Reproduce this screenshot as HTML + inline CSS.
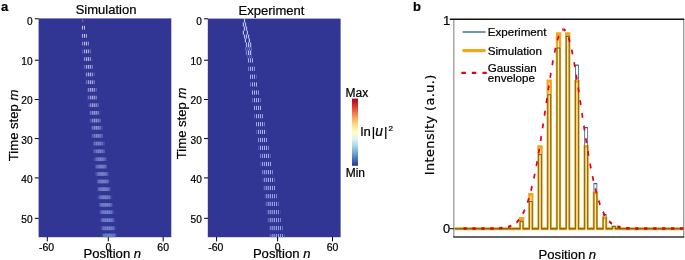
<!DOCTYPE html>
<html lang="en"><head><meta charset="utf-8"><title>Figure</title>
<style>html,body{margin:0;padding:0;background:#fff}svg{display:block}</style>
</head><body>
<svg width="685" height="260" viewBox="0 0 685 260" font-family='"Liberation Sans", Arial, Helvetica, sans-serif' fill="#000"><style>text{stroke:#000;stroke-width:0.22px;}</style>
<rect width="685" height="260" fill="#fff"/>
<rect x="38.6" y="18.4" width="132.70" height="218.80" fill="#313695"/>
<rect x="207.8" y="18.6" width="132.80" height="218.60" fill="#313695"/>
<g shape-rendering="auto">
<rect x="82.20" y="18.50" width="1.00" height="3.75" fill="#e86a48" fill-opacity="0.60"/>
<rect x="81.95" y="25.80" width="1.00" height="3.75" fill="#ecd6e2" fill-opacity="0.87"/>
<rect x="83.91" y="25.80" width="1.00" height="3.75" fill="#ecd6e2" fill-opacity="0.89"/>
<rect x="81.95" y="34.00" width="1.00" height="3.75" fill="#ecd6e2" fill-opacity="0.75"/>
<rect x="83.91" y="34.00" width="1.00" height="3.75" fill="#ecd6e2" fill-opacity="0.92"/>
<rect x="85.86" y="34.00" width="1.00" height="3.75" fill="#ecd6e2" fill-opacity="0.80"/>
<rect x="81.95" y="41.70" width="1.00" height="3.75" fill="#e0e0f8" fill-opacity="0.54"/>
<rect x="83.91" y="41.70" width="1.00" height="3.75" fill="#e0e0f8" fill-opacity="0.87"/>
<rect x="85.86" y="41.70" width="1.00" height="3.75" fill="#e0e0f8" fill-opacity="0.90"/>
<rect x="87.81" y="41.70" width="1.00" height="3.75" fill="#e0e0f8" fill-opacity="0.65"/>
<rect x="81.95" y="49.50" width="1.00" height="3.75" fill="#e0e0f8" fill-opacity="0.21"/>
<rect x="83.91" y="49.50" width="1.00" height="3.75" fill="#e0e0f8" fill-opacity="0.75"/>
<rect x="85.86" y="49.50" width="1.00" height="3.75" fill="#e0e0f8" fill-opacity="0.92"/>
<rect x="87.81" y="49.50" width="1.00" height="3.75" fill="#e0e0f8" fill-opacity="0.83"/>
<rect x="89.77" y="49.50" width="1.00" height="3.75" fill="#e0e0f8" fill-opacity="0.44"/>
<rect x="83.91" y="57.20" width="1.00" height="3.75" fill="#e0e0f8" fill-opacity="0.57"/>
<rect x="85.86" y="57.20" width="1.00" height="3.75" fill="#e0e0f8" fill-opacity="0.87"/>
<rect x="87.81" y="57.20" width="1.00" height="3.75" fill="#e0e0f8" fill-opacity="0.91"/>
<rect x="89.77" y="57.20" width="1.00" height="3.75" fill="#e0e0f8" fill-opacity="0.70"/>
<rect x="91.73" y="57.20" width="1.00" height="3.75" fill="#e0e0f8" fill-opacity="0.07"/>
<rect x="83.91" y="65.00" width="1.00" height="3.75" fill="#e0e0f8" fill-opacity="0.30"/>
<rect x="85.86" y="65.00" width="1.00" height="3.75" fill="#e0e0f8" fill-opacity="0.76"/>
<rect x="87.81" y="65.00" width="1.00" height="3.75" fill="#e0e0f8" fill-opacity="0.92"/>
<rect x="89.77" y="65.00" width="1.00" height="3.75" fill="#e0e0f8" fill-opacity="0.85"/>
<rect x="91.73" y="65.00" width="1.00" height="3.75" fill="#e0e0f8" fill-opacity="0.52"/>
<rect x="85.86" y="72.60" width="1.00" height="3.75" fill="#e0e0f8" fill-opacity="0.60"/>
<rect x="87.81" y="72.60" width="1.00" height="3.75" fill="#e0e0f8" fill-opacity="0.87"/>
<rect x="89.77" y="72.60" width="1.00" height="3.75" fill="#e0e0f8" fill-opacity="0.91"/>
<rect x="91.73" y="72.60" width="1.00" height="3.75" fill="#e0e0f8" fill-opacity="0.74"/>
<rect x="93.68" y="72.60" width="1.00" height="3.75" fill="#e0e0f8" fill-opacity="0.26"/>
<rect x="85.86" y="80.30" width="1.00" height="3.75" fill="#e0e0f8" fill-opacity="0.37"/>
<rect x="87.81" y="80.30" width="1.00" height="3.75" fill="#e0e0f8" fill-opacity="0.77"/>
<rect x="89.77" y="80.30" width="1.00" height="3.75" fill="#e0e0f8" fill-opacity="0.92"/>
<rect x="91.73" y="80.30" width="1.00" height="3.75" fill="#e0e0f8" fill-opacity="0.86"/>
<rect x="93.68" y="80.30" width="1.00" height="3.75" fill="#e0e0f8" fill-opacity="0.58"/>
<rect x="87.81" y="88.00" width="1.00" height="3.75" fill="#e0e0f8" fill-opacity="0.63"/>
<rect x="89.77" y="88.00" width="1.00" height="3.75" fill="#e0e0f8" fill-opacity="0.87"/>
<rect x="91.73" y="88.00" width="1.00" height="3.75" fill="#e0e0f8" fill-opacity="0.91"/>
<rect x="93.68" y="88.00" width="1.00" height="3.75" fill="#e0e0f8" fill-opacity="0.76"/>
<rect x="95.64" y="88.00" width="1.00" height="3.75" fill="#e0e0f8" fill-opacity="0.36"/>
<rect x="87.81" y="95.70" width="1.00" height="3.75" fill="#e0e0f8" fill-opacity="0.44"/>
<rect x="89.77" y="95.70" width="1.00" height="3.75" fill="#e0e0f8" fill-opacity="0.79"/>
<rect x="91.73" y="95.70" width="1.00" height="3.75" fill="#e0e0f8" fill-opacity="0.92"/>
<rect x="93.68" y="95.70" width="1.00" height="3.75" fill="#e0e0f8" fill-opacity="0.87"/>
<rect x="95.64" y="95.70" width="1.00" height="3.75" fill="#e0e0f8" fill-opacity="0.63"/>
<rect x="87.81" y="103.30" width="1.00" height="3.75" fill="#dbdcf7" fill-opacity="0.14"/>
<rect x="89.77" y="103.30" width="1.00" height="3.75" fill="#dbdcf7" fill-opacity="0.66"/>
<rect x="91.73" y="103.30" width="1.00" height="3.75" fill="#dbdcf7" fill-opacity="0.88"/>
<rect x="93.68" y="103.30" width="1.00" height="3.75" fill="#dbdcf7" fill-opacity="0.91"/>
<rect x="95.64" y="103.30" width="1.00" height="3.75" fill="#dbdcf7" fill-opacity="0.78"/>
<rect x="97.59" y="103.30" width="1.00" height="3.75" fill="#dbdcf7" fill-opacity="0.43"/>
<rect x="89.77" y="111.00" width="1.00" height="3.75" fill="#d6d8f6" fill-opacity="0.49"/>
<rect x="91.73" y="111.00" width="1.00" height="3.75" fill="#d6d8f6" fill-opacity="0.80"/>
<rect x="93.68" y="111.00" width="1.00" height="3.75" fill="#d6d8f6" fill-opacity="0.92"/>
<rect x="95.64" y="111.00" width="1.00" height="3.75" fill="#d6d8f6" fill-opacity="0.87"/>
<rect x="97.59" y="111.00" width="1.00" height="3.75" fill="#d6d8f6" fill-opacity="0.66"/>
<rect x="99.55" y="111.00" width="1.00" height="3.75" fill="#d6d8f6" fill-opacity="0.14"/>
<rect x="89.77" y="118.70" width="1.00" height="3.75" fill="#d1d5f4" fill-opacity="0.26"/>
<rect x="91.73" y="118.70" width="1.00" height="3.75" fill="#d1d5f4" fill-opacity="0.69"/>
<rect x="93.68" y="118.70" width="1.00" height="3.75" fill="#d1d5f4" fill-opacity="0.88"/>
<rect x="95.64" y="118.70" width="1.00" height="3.75" fill="#d1d5f4" fill-opacity="0.91"/>
<rect x="97.59" y="118.70" width="1.00" height="3.75" fill="#d1d5f4" fill-opacity="0.79"/>
<rect x="99.55" y="118.70" width="1.00" height="3.75" fill="#d1d5f4" fill-opacity="0.48"/>
<rect x="91.73" y="126.00" width="1.00" height="3.75" fill="#ccd1f3" fill-opacity="0.55"/>
<rect x="93.68" y="126.00" width="1.00" height="3.75" fill="#ccd1f3" fill-opacity="0.82"/>
<rect x="95.64" y="126.00" width="1.00" height="3.75" fill="#ccd1f3" fill-opacity="0.92"/>
<rect x="97.59" y="126.00" width="1.00" height="3.75" fill="#ccd1f3" fill-opacity="0.87"/>
<rect x="99.55" y="126.00" width="1.00" height="3.75" fill="#ccd1f3" fill-opacity="0.68"/>
<rect x="101.50" y="126.00" width="1.00" height="3.75" fill="#ccd1f3" fill-opacity="0.24"/>
<rect x="91.73" y="134.00" width="1.00" height="3.75" fill="#c6cdf2" fill-opacity="0.35"/>
<rect x="93.68" y="134.00" width="1.00" height="3.75" fill="#c6cdf2" fill-opacity="0.70"/>
<rect x="95.64" y="134.00" width="1.00" height="3.75" fill="#c6cdf2" fill-opacity="0.87"/>
<rect x="97.59" y="134.00" width="1.00" height="3.75" fill="#c6cdf2" fill-opacity="0.89"/>
<rect x="99.55" y="134.00" width="1.00" height="3.75" fill="#c6cdf2" fill-opacity="0.78"/>
<rect x="101.50" y="134.00" width="1.00" height="3.75" fill="#c6cdf2" fill-opacity="0.51"/>
<rect x="91.70" y="141.70" width="1.04" height="3.75" fill="#c1c9f1" fill-opacity="0.04"/>
<rect x="93.66" y="141.70" width="1.04" height="3.75" fill="#c1c9f1" fill-opacity="0.57"/>
<rect x="95.61" y="141.70" width="1.04" height="3.75" fill="#c1c9f1" fill-opacity="0.79"/>
<rect x="97.57" y="141.70" width="1.04" height="3.75" fill="#c1c9f1" fill-opacity="0.87"/>
<rect x="99.52" y="141.70" width="1.04" height="3.75" fill="#c1c9f1" fill-opacity="0.83"/>
<rect x="101.48" y="141.70" width="1.04" height="3.75" fill="#c1c9f1" fill-opacity="0.66"/>
<rect x="103.43" y="141.70" width="1.04" height="3.75" fill="#c1c9f1" fill-opacity="0.29"/>
<rect x="93.64" y="149.40" width="1.09" height="3.75" fill="#bcc6ef" fill-opacity="0.40"/>
<rect x="95.59" y="149.40" width="1.09" height="3.75" fill="#bcc6ef" fill-opacity="0.69"/>
<rect x="97.55" y="149.40" width="1.09" height="3.75" fill="#bcc6ef" fill-opacity="0.83"/>
<rect x="99.50" y="149.40" width="1.09" height="3.75" fill="#bcc6ef" fill-opacity="0.84"/>
<rect x="101.45" y="149.40" width="1.09" height="3.75" fill="#bcc6ef" fill-opacity="0.74"/>
<rect x="103.41" y="149.40" width="1.09" height="3.75" fill="#bcc6ef" fill-opacity="0.50"/>
<rect x="95.19" y="157.30" width="10.16" height="3.75" fill="#b7c2ee" fill-opacity="0.04"/>
<rect x="93.61" y="157.30" width="1.14" height="3.75" fill="#b7c2ee" fill-opacity="0.19"/>
<rect x="95.57" y="157.30" width="1.14" height="3.75" fill="#b7c2ee" fill-opacity="0.57"/>
<rect x="97.52" y="157.30" width="1.14" height="3.75" fill="#b7c2ee" fill-opacity="0.76"/>
<rect x="99.48" y="157.30" width="1.14" height="3.75" fill="#b7c2ee" fill-opacity="0.82"/>
<rect x="101.43" y="157.30" width="1.14" height="3.75" fill="#b7c2ee" fill-opacity="0.78"/>
<rect x="103.39" y="157.30" width="1.14" height="3.75" fill="#b7c2ee" fill-opacity="0.63"/>
<rect x="105.34" y="157.30" width="1.14" height="3.75" fill="#b7c2ee" fill-opacity="0.31"/>
<rect x="96.00" y="164.75" width="10.38" height="3.75" fill="#b2beed" fill-opacity="0.07"/>
<rect x="95.55" y="164.75" width="1.18" height="3.75" fill="#b2beed" fill-opacity="0.44"/>
<rect x="97.50" y="164.75" width="1.18" height="3.75" fill="#b2beed" fill-opacity="0.67"/>
<rect x="99.45" y="164.75" width="1.18" height="3.75" fill="#b2beed" fill-opacity="0.78"/>
<rect x="101.41" y="164.75" width="1.18" height="3.75" fill="#b2beed" fill-opacity="0.79"/>
<rect x="103.37" y="164.75" width="1.18" height="3.75" fill="#b2beed" fill-opacity="0.70"/>
<rect x="105.32" y="164.75" width="1.18" height="3.75" fill="#b2beed" fill-opacity="0.49"/>
<rect x="96.80" y="172.10" width="10.61" height="3.75" fill="#adbaec" fill-opacity="0.11"/>
<rect x="95.52" y="172.10" width="1.23" height="3.75" fill="#adbaec" fill-opacity="0.28"/>
<rect x="97.48" y="172.10" width="1.23" height="3.75" fill="#adbaec" fill-opacity="0.58"/>
<rect x="99.43" y="172.10" width="1.23" height="3.75" fill="#adbaec" fill-opacity="0.73"/>
<rect x="101.39" y="172.10" width="1.23" height="3.75" fill="#adbaec" fill-opacity="0.78"/>
<rect x="103.34" y="172.10" width="1.23" height="3.75" fill="#adbaec" fill-opacity="0.74"/>
<rect x="105.30" y="172.10" width="1.23" height="3.75" fill="#adbaec" fill-opacity="0.60"/>
<rect x="107.25" y="172.10" width="1.23" height="3.75" fill="#adbaec" fill-opacity="0.32"/>
<rect x="97.59" y="179.60" width="10.83" height="3.75" fill="#a8b6eb" fill-opacity="0.14"/>
<rect x="95.50" y="179.60" width="1.27" height="3.75" fill="#a8b6eb" fill-opacity="0.05"/>
<rect x="97.45" y="179.60" width="1.27" height="3.75" fill="#a8b6eb" fill-opacity="0.46"/>
<rect x="99.41" y="179.60" width="1.27" height="3.75" fill="#a8b6eb" fill-opacity="0.65"/>
<rect x="101.36" y="179.60" width="1.27" height="3.75" fill="#a8b6eb" fill-opacity="0.74"/>
<rect x="103.32" y="179.60" width="1.27" height="3.75" fill="#a8b6eb" fill-opacity="0.74"/>
<rect x="105.27" y="179.60" width="1.27" height="3.75" fill="#a8b6eb" fill-opacity="0.66"/>
<rect x="107.23" y="179.60" width="1.27" height="3.75" fill="#a8b6eb" fill-opacity="0.47"/>
<rect x="109.19" y="179.60" width="1.27" height="3.75" fill="#a8b6eb" fill-opacity="0.08"/>
<rect x="98.38" y="187.30" width="11.06" height="3.75" fill="#a3b3e9" fill-opacity="0.18"/>
<rect x="97.43" y="187.30" width="1.31" height="3.75" fill="#a3b3e9" fill-opacity="0.33"/>
<rect x="99.39" y="187.30" width="1.31" height="3.75" fill="#a3b3e9" fill-opacity="0.57"/>
<rect x="101.34" y="187.30" width="1.31" height="3.75" fill="#a3b3e9" fill-opacity="0.69"/>
<rect x="103.30" y="187.30" width="1.31" height="3.75" fill="#a3b3e9" fill-opacity="0.73"/>
<rect x="105.25" y="187.30" width="1.31" height="3.75" fill="#a3b3e9" fill-opacity="0.69"/>
<rect x="107.21" y="187.30" width="1.31" height="3.75" fill="#a3b3e9" fill-opacity="0.56"/>
<rect x="109.16" y="187.30" width="1.31" height="3.75" fill="#a3b3e9" fill-opacity="0.32"/>
<rect x="99.16" y="195.40" width="11.29" height="3.75" fill="#9eafe8" fill-opacity="0.21"/>
<rect x="97.41" y="195.40" width="1.36" height="3.75" fill="#9eafe8" fill-opacity="0.18"/>
<rect x="99.36" y="195.40" width="1.36" height="3.75" fill="#9eafe8" fill-opacity="0.47"/>
<rect x="101.32" y="195.40" width="1.36" height="3.75" fill="#9eafe8" fill-opacity="0.63"/>
<rect x="103.28" y="195.40" width="1.36" height="3.75" fill="#9eafe8" fill-opacity="0.70"/>
<rect x="105.23" y="195.40" width="1.36" height="3.75" fill="#9eafe8" fill-opacity="0.69"/>
<rect x="107.19" y="195.40" width="1.36" height="3.75" fill="#9eafe8" fill-opacity="0.61"/>
<rect x="109.14" y="195.40" width="1.36" height="3.75" fill="#9eafe8" fill-opacity="0.44"/>
<rect x="111.09" y="195.40" width="1.36" height="3.75" fill="#9eafe8" fill-opacity="0.11"/>
<rect x="99.93" y="203.00" width="11.51" height="3.75" fill="#98abe7" fill-opacity="0.25"/>
<rect x="99.34" y="203.00" width="1.41" height="3.75" fill="#98abe7" fill-opacity="0.37"/>
<rect x="101.30" y="203.00" width="1.41" height="3.75" fill="#98abe7" fill-opacity="0.56"/>
<rect x="103.25" y="203.00" width="1.41" height="3.75" fill="#98abe7" fill-opacity="0.65"/>
<rect x="105.21" y="203.00" width="1.41" height="3.75" fill="#98abe7" fill-opacity="0.68"/>
<rect x="107.16" y="203.00" width="1.41" height="3.75" fill="#98abe7" fill-opacity="0.64"/>
<rect x="109.12" y="203.00" width="1.41" height="3.75" fill="#98abe7" fill-opacity="0.52"/>
<rect x="111.07" y="203.00" width="1.41" height="3.75" fill="#98abe7" fill-opacity="0.31"/>
<rect x="100.69" y="210.30" width="11.74" height="3.75" fill="#93a7e6" fill-opacity="0.28"/>
<rect x="99.32" y="210.30" width="1.45" height="3.75" fill="#93a7e6" fill-opacity="0.25"/>
<rect x="101.28" y="210.30" width="1.45" height="3.75" fill="#93a7e6" fill-opacity="0.48"/>
<rect x="103.23" y="210.30" width="1.45" height="3.75" fill="#93a7e6" fill-opacity="0.60"/>
<rect x="105.19" y="210.30" width="1.45" height="3.75" fill="#93a7e6" fill-opacity="0.65"/>
<rect x="107.14" y="210.30" width="1.45" height="3.75" fill="#93a7e6" fill-opacity="0.64"/>
<rect x="109.10" y="210.30" width="1.45" height="3.75" fill="#93a7e6" fill-opacity="0.57"/>
<rect x="111.05" y="210.30" width="1.45" height="3.75" fill="#93a7e6" fill-opacity="0.42"/>
<rect x="113.01" y="210.30" width="1.45" height="3.75" fill="#93a7e6" fill-opacity="0.12"/>
<rect x="101.45" y="218.30" width="11.97" height="3.75" fill="#8ea4e4" fill-opacity="0.32"/>
<rect x="99.30" y="218.30" width="1.50" height="3.75" fill="#8ea4e4" fill-opacity="0.10"/>
<rect x="101.25" y="218.30" width="1.50" height="3.75" fill="#8ea4e4" fill-opacity="0.39"/>
<rect x="103.21" y="218.30" width="1.50" height="3.75" fill="#8ea4e4" fill-opacity="0.54"/>
<rect x="105.16" y="218.30" width="1.50" height="3.75" fill="#8ea4e4" fill-opacity="0.61"/>
<rect x="107.12" y="218.30" width="1.50" height="3.75" fill="#8ea4e4" fill-opacity="0.63"/>
<rect x="109.07" y="218.30" width="1.50" height="3.75" fill="#8ea4e4" fill-opacity="0.59"/>
<rect x="111.03" y="218.30" width="1.50" height="3.75" fill="#8ea4e4" fill-opacity="0.48"/>
<rect x="112.98" y="218.30" width="1.50" height="3.75" fill="#8ea4e4" fill-opacity="0.29"/>
<rect x="102.20" y="226.40" width="12.19" height="3.75" fill="#89a0e3" fill-opacity="0.35"/>
<rect x="101.23" y="226.40" width="1.54" height="3.75" fill="#89a0e3" fill-opacity="0.29"/>
<rect x="103.19" y="226.40" width="1.54" height="3.75" fill="#89a0e3" fill-opacity="0.47"/>
<rect x="105.14" y="226.40" width="1.54" height="3.75" fill="#89a0e3" fill-opacity="0.57"/>
<rect x="107.10" y="226.40" width="1.54" height="3.75" fill="#89a0e3" fill-opacity="0.61"/>
<rect x="109.05" y="226.40" width="1.54" height="3.75" fill="#89a0e3" fill-opacity="0.59"/>
<rect x="111.01" y="226.40" width="1.54" height="3.75" fill="#89a0e3" fill-opacity="0.52"/>
<rect x="112.96" y="226.40" width="1.54" height="3.75" fill="#89a0e3" fill-opacity="0.38"/>
<rect x="114.92" y="226.40" width="1.54" height="3.75" fill="#89a0e3" fill-opacity="0.13"/>
<rect x="102.95" y="233.60" width="12.42" height="3.75" fill="#849ce2" fill-opacity="0.39"/>
<rect x="101.21" y="233.60" width="1.58" height="3.75" fill="#849ce2" fill-opacity="0.18"/>
<rect x="103.16" y="233.60" width="1.58" height="3.75" fill="#849ce2" fill-opacity="0.40"/>
<rect x="105.12" y="233.60" width="1.58" height="3.75" fill="#849ce2" fill-opacity="0.51"/>
<rect x="107.07" y="233.60" width="1.58" height="3.75" fill="#849ce2" fill-opacity="0.57"/>
<rect x="109.03" y="233.60" width="1.58" height="3.75" fill="#849ce2" fill-opacity="0.58"/>
<rect x="110.98" y="233.60" width="1.58" height="3.75" fill="#849ce2" fill-opacity="0.54"/>
<rect x="112.94" y="233.60" width="1.58" height="3.75" fill="#849ce2" fill-opacity="0.44"/>
<rect x="114.89" y="233.60" width="1.58" height="3.75" fill="#849ce2" fill-opacity="0.27"/>
</g>
<g>
<rect x="243.90" y="18.60" width="1.20" height="3.90" fill="#b6c4ff" fill-opacity="0.99"/>
<rect x="242.80" y="22.50" width="1.20" height="4.00" fill="#b6c4ff" fill-opacity="0.99"/>
<rect x="244.90" y="22.50" width="1.20" height="4.00" fill="#b6c4ff" fill-opacity="0.99"/>
<rect x="243.90" y="26.50" width="1.20" height="4.10" fill="#b6c4ff" fill-opacity="0.99"/>
<rect x="245.90" y="26.50" width="1.20" height="4.10" fill="#b6c4ff" fill-opacity="0.99"/>
<rect x="242.80" y="30.60" width="1.20" height="4.00" fill="#b6c4ff" fill-opacity="0.99"/>
<rect x="246.80" y="30.60" width="1.20" height="4.00" fill="#b6c4ff" fill-opacity="0.99"/>
<rect x="243.90" y="34.60" width="1.20" height="4.00" fill="#b6c4ff" fill-opacity="0.94"/>
<rect x="245.90" y="34.60" width="1.20" height="4.00" fill="#b6c4ff" fill-opacity="1.00"/>
<rect x="248.00" y="34.60" width="1.20" height="4.00" fill="#b6c4ff" fill-opacity="0.94"/>
<rect x="244.80" y="38.60" width="1.20" height="3.80" fill="#b6c4ff" fill-opacity="0.99"/>
<rect x="248.80" y="38.60" width="1.20" height="3.80" fill="#b6c4ff" fill-opacity="0.99"/>
<rect x="245.90" y="42.40" width="1.20" height="4.90" fill="#b6c4ff" fill-opacity="0.88"/>
<rect x="248.00" y="42.40" width="1.20" height="4.90" fill="#b6c4ff" fill-opacity="1.00"/>
<rect x="250.00" y="42.40" width="1.20" height="4.90" fill="#b6c4ff" fill-opacity="0.88"/>
<rect x="245.10" y="47.30" width="1.20" height="3.20" fill="#b6c4ff" fill-opacity="0.39"/>
<rect x="247.00" y="47.30" width="1.20" height="3.20" fill="#b6c4ff" fill-opacity="0.28"/>
<rect x="248.90" y="47.30" width="1.20" height="3.20" fill="#b6c4ff" fill-opacity="0.50"/>
<rect x="250.90" y="47.30" width="1.20" height="3.20" fill="#b6c4ff" fill-opacity="0.33"/>
<rect x="245.90" y="50.50" width="1.20" height="4.50" fill="#b6c4ff" fill-opacity="0.55"/>
<rect x="248.00" y="50.50" width="1.20" height="4.50" fill="#b6c4ff" fill-opacity="1.00"/>
<rect x="250.00" y="50.50" width="1.20" height="4.50" fill="#b6c4ff" fill-opacity="0.99"/>
<rect x="246.90" y="55.00" width="1.20" height="3.30" fill="#b6c4ff" fill-opacity="0.22"/>
<rect x="248.90" y="55.00" width="1.20" height="3.30" fill="#b6c4ff" fill-opacity="0.33"/>
<rect x="250.90" y="55.00" width="1.20" height="3.30" fill="#b6c4ff" fill-opacity="0.28"/>
<rect x="247.97" y="58.30" width="1.05" height="4.20" fill="#adbbf8" fill-opacity="0.95"/>
<rect x="249.97" y="58.30" width="1.05" height="4.20" fill="#adbbf8" fill-opacity="0.95"/>
<rect x="251.97" y="58.30" width="1.05" height="4.20" fill="#adbbf8" fill-opacity="0.95"/>
<rect x="247.97" y="66.70" width="1.05" height="4.20" fill="#adbbf8" fill-opacity="0.56"/>
<rect x="249.97" y="66.70" width="1.05" height="4.20" fill="#adbbf8" fill-opacity="0.95"/>
<rect x="251.97" y="66.70" width="1.05" height="4.20" fill="#adbbf8" fill-opacity="0.95"/>
<rect x="253.97" y="66.70" width="1.05" height="4.20" fill="#adbbf8" fill-opacity="0.71"/>
<rect x="249.97" y="74.60" width="1.05" height="4.20" fill="#adbbf8" fill-opacity="0.95"/>
<rect x="251.97" y="74.60" width="1.05" height="4.20" fill="#adbbf8" fill-opacity="0.95"/>
<rect x="253.97" y="74.60" width="1.05" height="4.20" fill="#adbbf8" fill-opacity="0.95"/>
<rect x="255.97" y="74.60" width="1.05" height="4.20" fill="#adbbf8" fill-opacity="0.29"/>
<rect x="249.97" y="82.30" width="1.05" height="4.20" fill="#adbbf8" fill-opacity="0.48"/>
<rect x="251.97" y="82.30" width="1.05" height="4.20" fill="#adbbf8" fill-opacity="0.95"/>
<rect x="253.97" y="82.30" width="1.05" height="4.20" fill="#adbbf8" fill-opacity="0.95"/>
<rect x="255.97" y="82.30" width="1.05" height="4.20" fill="#adbbf8" fill-opacity="0.95"/>
<rect x="251.97" y="90.40" width="1.05" height="4.20" fill="#adbbf8" fill-opacity="0.94"/>
<rect x="253.97" y="90.40" width="1.05" height="4.20" fill="#adbbf8" fill-opacity="0.95"/>
<rect x="255.97" y="90.40" width="1.05" height="4.20" fill="#adbbf8" fill-opacity="0.95"/>
<rect x="257.98" y="90.40" width="1.05" height="4.20" fill="#adbbf8" fill-opacity="0.76"/>
<rect x="251.97" y="98.10" width="1.05" height="4.20" fill="#adbbf8" fill-opacity="0.42"/>
<rect x="253.97" y="98.10" width="1.05" height="4.20" fill="#adbbf8" fill-opacity="0.95"/>
<rect x="255.97" y="98.10" width="1.05" height="4.20" fill="#adbbf8" fill-opacity="0.95"/>
<rect x="257.98" y="98.10" width="1.05" height="4.20" fill="#adbbf8" fill-opacity="0.95"/>
<rect x="259.98" y="98.10" width="1.05" height="4.20" fill="#adbbf8" fill-opacity="0.42"/>
<rect x="253.97" y="105.80" width="1.05" height="4.20" fill="#adbbf8" fill-opacity="0.87"/>
<rect x="255.97" y="105.80" width="1.05" height="4.20" fill="#adbbf8" fill-opacity="0.95"/>
<rect x="257.98" y="105.80" width="1.05" height="4.20" fill="#adbbf8" fill-opacity="0.95"/>
<rect x="259.98" y="105.80" width="1.05" height="4.20" fill="#adbbf8" fill-opacity="0.95"/>
<rect x="253.97" y="114.10" width="1.05" height="4.20" fill="#adbbf8" fill-opacity="0.36"/>
<rect x="255.97" y="114.10" width="1.05" height="4.20" fill="#adbbf8" fill-opacity="0.95"/>
<rect x="257.98" y="114.10" width="1.05" height="4.20" fill="#adbbf8" fill-opacity="0.95"/>
<rect x="259.98" y="114.10" width="1.05" height="4.20" fill="#adbbf8" fill-opacity="0.95"/>
<rect x="261.98" y="114.10" width="1.05" height="4.20" fill="#adbbf8" fill-opacity="0.79"/>
<rect x="255.97" y="122.10" width="1.05" height="4.20" fill="#adbbf8" fill-opacity="0.81"/>
<rect x="257.98" y="122.10" width="1.05" height="4.20" fill="#adbbf8" fill-opacity="0.95"/>
<rect x="259.98" y="122.10" width="1.05" height="4.20" fill="#adbbf8" fill-opacity="0.95"/>
<rect x="261.98" y="122.10" width="1.05" height="4.20" fill="#adbbf8" fill-opacity="0.95"/>
<rect x="263.98" y="122.10" width="1.05" height="4.20" fill="#adbbf8" fill-opacity="0.51"/>
<rect x="255.97" y="129.80" width="1.05" height="4.20" fill="#adbbf8" fill-opacity="0.30"/>
<rect x="257.98" y="129.80" width="1.05" height="4.20" fill="#adbbf8" fill-opacity="0.95"/>
<rect x="259.98" y="129.80" width="1.05" height="4.20" fill="#adbbf8" fill-opacity="0.95"/>
<rect x="261.98" y="129.80" width="1.05" height="4.20" fill="#adbbf8" fill-opacity="0.95"/>
<rect x="263.98" y="129.80" width="1.05" height="4.20" fill="#adbbf8" fill-opacity="0.95"/>
<rect x="265.98" y="129.80" width="1.05" height="4.20" fill="#adbbf8" fill-opacity="0.14"/>
<rect x="257.98" y="137.90" width="1.05" height="4.20" fill="#adbbf8" fill-opacity="0.74"/>
<rect x="259.98" y="137.90" width="1.05" height="4.20" fill="#adbbf8" fill-opacity="0.95"/>
<rect x="261.98" y="137.90" width="1.05" height="4.20" fill="#adbbf8" fill-opacity="0.95"/>
<rect x="263.98" y="137.90" width="1.05" height="4.20" fill="#adbbf8" fill-opacity="0.95"/>
<rect x="265.98" y="137.90" width="1.05" height="4.20" fill="#adbbf8" fill-opacity="0.82"/>
<rect x="257.98" y="145.80" width="1.05" height="4.20" fill="#adbbf8" fill-opacity="0.25"/>
<rect x="259.98" y="145.80" width="1.05" height="4.20" fill="#adbbf8" fill-opacity="0.95"/>
<rect x="261.98" y="145.80" width="1.05" height="4.20" fill="#adbbf8" fill-opacity="0.95"/>
<rect x="263.98" y="145.80" width="1.05" height="4.20" fill="#adbbf8" fill-opacity="0.95"/>
<rect x="265.98" y="145.80" width="1.05" height="4.20" fill="#adbbf8" fill-opacity="0.95"/>
<rect x="267.98" y="145.80" width="1.05" height="4.20" fill="#adbbf8" fill-opacity="0.57"/>
<rect x="259.93" y="153.80" width="1.13" height="4.20" fill="#adbbf8" fill-opacity="0.55"/>
<rect x="261.93" y="153.80" width="1.13" height="4.20" fill="#adbbf8" fill-opacity="0.76"/>
<rect x="263.98" y="153.80" width="1.05" height="4.20" fill="#adbbf8" fill-opacity="0.95"/>
<rect x="265.98" y="153.80" width="1.05" height="4.20" fill="#adbbf8" fill-opacity="0.95"/>
<rect x="267.98" y="153.80" width="1.05" height="4.20" fill="#adbbf8" fill-opacity="0.95"/>
<rect x="269.98" y="153.80" width="1.05" height="4.20" fill="#adbbf8" fill-opacity="0.27"/>
<rect x="259.89" y="161.90" width="1.22" height="4.20" fill="#adbbf8" fill-opacity="0.16"/>
<rect x="261.89" y="161.90" width="1.22" height="4.20" fill="#adbbf8" fill-opacity="0.76"/>
<rect x="263.89" y="161.90" width="1.22" height="4.20" fill="#adbbf8" fill-opacity="0.76"/>
<rect x="265.98" y="161.90" width="1.05" height="4.20" fill="#adbbf8" fill-opacity="0.95"/>
<rect x="267.98" y="161.90" width="1.05" height="4.20" fill="#adbbf8" fill-opacity="0.95"/>
<rect x="269.98" y="161.90" width="1.05" height="4.20" fill="#adbbf8" fill-opacity="0.84"/>
<rect x="261.85" y="170.10" width="1.30" height="4.20" fill="#adbbf8" fill-opacity="0.49"/>
<rect x="263.85" y="170.10" width="1.30" height="4.20" fill="#adbbf8" fill-opacity="0.74"/>
<rect x="265.85" y="170.10" width="1.30" height="4.20" fill="#adbbf8" fill-opacity="0.74"/>
<rect x="267.98" y="170.10" width="1.05" height="4.20" fill="#adbbf8" fill-opacity="0.92"/>
<rect x="269.98" y="170.10" width="1.05" height="4.20" fill="#adbbf8" fill-opacity="0.92"/>
<rect x="271.98" y="170.10" width="1.05" height="4.20" fill="#adbbf8" fill-opacity="0.60"/>
<rect x="261.81" y="177.80" width="1.38" height="4.20" fill="#adbbf8" fill-opacity="0.12"/>
<rect x="263.81" y="177.80" width="1.38" height="4.20" fill="#adbbf8" fill-opacity="0.69"/>
<rect x="265.81" y="177.80" width="1.38" height="4.20" fill="#adbbf8" fill-opacity="0.71"/>
<rect x="267.98" y="177.80" width="1.05" height="4.20" fill="#adbbf8" fill-opacity="0.89"/>
<rect x="269.98" y="177.80" width="1.05" height="4.20" fill="#adbbf8" fill-opacity="0.89"/>
<rect x="271.98" y="177.80" width="1.05" height="4.20" fill="#adbbf8" fill-opacity="0.89"/>
<rect x="273.98" y="177.80" width="1.05" height="4.20" fill="#adbbf8" fill-opacity="0.34"/>
<rect x="263.77" y="185.90" width="1.47" height="4.20" fill="#adbbf8" fill-opacity="0.43"/>
<rect x="265.77" y="185.90" width="1.47" height="4.20" fill="#adbbf8" fill-opacity="0.69"/>
<rect x="267.77" y="185.90" width="1.47" height="4.20" fill="#adbbf8" fill-opacity="0.69"/>
<rect x="269.98" y="185.90" width="1.05" height="4.20" fill="#adbbf8" fill-opacity="0.86"/>
<rect x="271.98" y="185.90" width="1.05" height="4.20" fill="#adbbf8" fill-opacity="0.86"/>
<rect x="273.98" y="185.90" width="1.05" height="4.20" fill="#adbbf8" fill-opacity="0.78"/>
<rect x="263.73" y="194.10" width="1.55" height="4.20" fill="#adbbf8" fill-opacity="0.08"/>
<rect x="265.73" y="194.10" width="1.55" height="4.20" fill="#adbbf8" fill-opacity="0.61"/>
<rect x="267.73" y="194.10" width="1.55" height="4.20" fill="#adbbf8" fill-opacity="0.66"/>
<rect x="269.98" y="194.10" width="1.05" height="4.20" fill="#adbbf8" fill-opacity="0.83"/>
<rect x="271.98" y="194.10" width="1.05" height="4.20" fill="#adbbf8" fill-opacity="0.83"/>
<rect x="273.98" y="194.10" width="1.05" height="4.20" fill="#adbbf8" fill-opacity="0.83"/>
<rect x="275.98" y="194.10" width="1.05" height="4.20" fill="#adbbf8" fill-opacity="0.58"/>
<rect x="265.73" y="201.80" width="1.55" height="4.20" fill="#adbbf8" fill-opacity="0.37"/>
<rect x="267.73" y="201.80" width="1.55" height="4.20" fill="#adbbf8" fill-opacity="0.64"/>
<rect x="269.73" y="201.80" width="1.55" height="4.20" fill="#adbbf8" fill-opacity="0.64"/>
<rect x="271.98" y="201.80" width="1.05" height="4.20" fill="#adbbf8" fill-opacity="0.80"/>
<rect x="273.98" y="201.80" width="1.05" height="4.20" fill="#adbbf8" fill-opacity="0.80"/>
<rect x="275.98" y="201.80" width="1.05" height="4.20" fill="#adbbf8" fill-opacity="0.80"/>
<rect x="277.98" y="201.80" width="1.05" height="4.20" fill="#adbbf8" fill-opacity="0.37"/>
<rect x="265.73" y="210.00" width="1.55" height="4.20" fill="#adbbf8" fill-opacity="0.05"/>
<rect x="267.73" y="210.00" width="1.55" height="4.20" fill="#adbbf8" fill-opacity="0.54"/>
<rect x="269.73" y="210.00" width="1.55" height="4.20" fill="#adbbf8" fill-opacity="0.62"/>
<rect x="271.73" y="210.00" width="1.55" height="4.20" fill="#adbbf8" fill-opacity="0.62"/>
<rect x="273.98" y="210.00" width="1.05" height="4.20" fill="#adbbf8" fill-opacity="0.78"/>
<rect x="275.98" y="210.00" width="1.05" height="4.20" fill="#adbbf8" fill-opacity="0.78"/>
<rect x="277.98" y="210.00" width="1.05" height="4.20" fill="#adbbf8" fill-opacity="0.72"/>
<rect x="279.98" y="210.00" width="1.05" height="4.20" fill="#adbbf8" fill-opacity="0.14"/>
<rect x="267.73" y="218.00" width="1.55" height="4.20" fill="#adbbf8" fill-opacity="0.33"/>
<rect x="269.73" y="218.00" width="1.55" height="4.20" fill="#adbbf8" fill-opacity="0.62"/>
<rect x="271.73" y="218.00" width="1.55" height="4.20" fill="#adbbf8" fill-opacity="0.62"/>
<rect x="273.98" y="218.00" width="1.05" height="4.20" fill="#adbbf8" fill-opacity="0.78"/>
<rect x="275.98" y="218.00" width="1.05" height="4.20" fill="#adbbf8" fill-opacity="0.78"/>
<rect x="277.98" y="218.00" width="1.05" height="4.20" fill="#adbbf8" fill-opacity="0.78"/>
<rect x="279.98" y="218.00" width="1.05" height="4.20" fill="#adbbf8" fill-opacity="0.57"/>
<rect x="269.73" y="226.00" width="1.55" height="4.20" fill="#adbbf8" fill-opacity="0.52"/>
<rect x="271.73" y="226.00" width="1.55" height="4.20" fill="#adbbf8" fill-opacity="0.62"/>
<rect x="273.73" y="226.00" width="1.55" height="4.20" fill="#adbbf8" fill-opacity="0.62"/>
<rect x="275.98" y="226.00" width="1.05" height="4.20" fill="#adbbf8" fill-opacity="0.78"/>
<rect x="277.98" y="226.00" width="1.05" height="4.20" fill="#adbbf8" fill-opacity="0.78"/>
<rect x="279.98" y="226.00" width="1.05" height="4.20" fill="#adbbf8" fill-opacity="0.78"/>
<rect x="281.98" y="226.00" width="1.05" height="4.20" fill="#adbbf8" fill-opacity="0.41"/>
<rect x="269.73" y="234.00" width="1.55" height="4.20" fill="#adbbf8" fill-opacity="0.30"/>
<rect x="271.73" y="234.00" width="1.55" height="4.20" fill="#adbbf8" fill-opacity="0.62"/>
<rect x="273.73" y="234.00" width="1.55" height="4.20" fill="#adbbf8" fill-opacity="0.62"/>
<rect x="275.98" y="234.00" width="1.05" height="4.20" fill="#adbbf8" fill-opacity="0.78"/>
<rect x="277.98" y="234.00" width="1.05" height="4.20" fill="#adbbf8" fill-opacity="0.78"/>
<rect x="279.98" y="234.00" width="1.05" height="4.20" fill="#adbbf8" fill-opacity="0.78"/>
<rect x="281.98" y="234.00" width="1.05" height="4.20" fill="#adbbf8" fill-opacity="0.73"/>
<rect x="283.98" y="234.00" width="1.05" height="4.20" fill="#adbbf8" fill-opacity="0.22"/>
</g>
<line x1="34.80" y1="18.8" x2="38.80" y2="18.8" stroke="#000" stroke-width="1"/>
<text x="32.60" y="24.80" font-size="10.1" text-anchor="end">0</text>
<line x1="34.80" y1="60.2" x2="38.80" y2="60.2" stroke="#000" stroke-width="1"/>
<text x="32.60" y="65.10" font-size="10.1" text-anchor="end">10</text>
<line x1="34.80" y1="99.5" x2="38.80" y2="99.5" stroke="#000" stroke-width="1"/>
<text x="32.60" y="104.40" font-size="10.1" text-anchor="end">20</text>
<line x1="34.80" y1="138.6" x2="38.80" y2="138.6" stroke="#000" stroke-width="1"/>
<text x="32.60" y="143.50" font-size="10.1" text-anchor="end">30</text>
<line x1="34.80" y1="177.9" x2="38.80" y2="177.9" stroke="#000" stroke-width="1"/>
<text x="32.60" y="182.80" font-size="10.1" text-anchor="end">40</text>
<line x1="34.80" y1="218.3" x2="38.80" y2="218.3" stroke="#000" stroke-width="1"/>
<text x="32.60" y="223.20" font-size="10.1" text-anchor="end">50</text>
<line x1="47.30" y1="237" x2="47.30" y2="241.4" stroke="#000" stroke-width="1"/>
<text x="46.50" y="250.7" font-size="10.5" text-anchor="middle">-60</text>
<line x1="108.30" y1="237" x2="108.30" y2="241.4" stroke="#000" stroke-width="1"/>
<text x="108.30" y="250.7" font-size="10.5" text-anchor="middle">0</text>
<line x1="163.20" y1="237" x2="163.20" y2="241.4" stroke="#000" stroke-width="1"/>
<text x="163.20" y="250.7" font-size="10.5" text-anchor="middle">60</text>
<line x1="204.00" y1="18.8" x2="208.00" y2="18.8" stroke="#000" stroke-width="1"/>
<text x="201.80" y="24.80" font-size="10.1" text-anchor="end">0</text>
<line x1="204.00" y1="60.2" x2="208.00" y2="60.2" stroke="#000" stroke-width="1"/>
<text x="201.80" y="65.10" font-size="10.1" text-anchor="end">10</text>
<line x1="204.00" y1="99.5" x2="208.00" y2="99.5" stroke="#000" stroke-width="1"/>
<text x="201.80" y="104.40" font-size="10.1" text-anchor="end">20</text>
<line x1="204.00" y1="138.6" x2="208.00" y2="138.6" stroke="#000" stroke-width="1"/>
<text x="201.80" y="143.50" font-size="10.1" text-anchor="end">30</text>
<line x1="204.00" y1="177.9" x2="208.00" y2="177.9" stroke="#000" stroke-width="1"/>
<text x="201.80" y="182.80" font-size="10.1" text-anchor="end">40</text>
<line x1="204.00" y1="218.3" x2="208.00" y2="218.3" stroke="#000" stroke-width="1"/>
<text x="201.80" y="223.20" font-size="10.1" text-anchor="end">50</text>
<line x1="216.60" y1="237" x2="216.60" y2="241.4" stroke="#000" stroke-width="1"/>
<text x="215.80" y="250.7" font-size="10.5" text-anchor="middle">-60</text>
<line x1="277.60" y1="237" x2="277.60" y2="241.4" stroke="#000" stroke-width="1"/>
<text x="277.60" y="250.7" font-size="10.5" text-anchor="middle">0</text>
<line x1="332.50" y1="237" x2="332.50" y2="241.4" stroke="#000" stroke-width="1"/>
<text x="332.50" y="250.7" font-size="10.5" text-anchor="middle">60</text>
<text x="75.7" y="13.5" font-size="13">Simulation</text>
<text x="238.6" y="14.6" font-size="13">Experiment</text>
<text x="83.6" y="258.4" font-size="13.1">Position <tspan font-style="italic">n</tspan></text>
<text x="252.9" y="258.4" font-size="13.1">Position <tspan font-style="italic">n</tspan></text>
<text transform="translate(17.8,161.2) rotate(-90)" font-size="13.1">Time step <tspan font-style="italic">m</tspan></text>
<text transform="translate(185.8,159.2) rotate(-90)" font-size="13.1">Time step <tspan font-style="italic">m</tspan></text>
<text x="1" y="11.2" font-size="13" font-weight="bold">a</text>
<text x="413" y="10.7" font-size="13" font-weight="bold">b</text>
<defs><linearGradient id="cb" x1="0" y1="1" x2="0" y2="0">
<stop offset="0.0" stop-color="#313695"/>
<stop offset="0.1" stop-color="#4575b4"/>
<stop offset="0.2" stop-color="#74add1"/>
<stop offset="0.3" stop-color="#abd9e9"/>
<stop offset="0.4" stop-color="#e0f3f8"/>
<stop offset="0.5" stop-color="#ffffbf"/>
<stop offset="0.6" stop-color="#fee090"/>
<stop offset="0.7" stop-color="#fdae61"/>
<stop offset="0.8" stop-color="#f46d43"/>
<stop offset="0.9" stop-color="#d73027"/>
<stop offset="1.0" stop-color="#a50026"/>
</linearGradient></defs>
<rect x="352" y="98.6" width="6" height="67.2" fill="url(#cb)"/>
<text x="345.6" y="96.9" font-size="12">Max</text>
<text x="345.7" y="177" font-size="12">Min</text>
<text x="360.6" y="135.9" font-size="13.1">ln<tspan dx="1.0">|</tspan><tspan font-style="italic" dx="0.1" font-size="13.8">u</tspan><tspan dx="0.9">|</tspan><tspan dx="1.3" dy="-5.2" font-size="8">2</tspan></text>
<line x1="453.8" y1="19.2" x2="453.8" y2="237.0" stroke="#9a9a9a" stroke-width="1.3"/>
<line x1="683.8" y1="19.2" x2="683.8" y2="237.0" stroke="#555" stroke-width="0.8"/>
<line x1="449.8" y1="19.2" x2="684.1999999999999" y2="19.2" stroke="#111" stroke-width="1.35"/>
<line x1="453.2" y1="237.0" x2="684.1999999999999" y2="237.0" stroke="#333" stroke-width="1.3"/>
<line x1="449.6" y1="228.7" x2="453.8" y2="228.7" stroke="#000" stroke-width="1"/>
<text x="450.2" y="24.8" font-size="13.1" text-anchor="end">1</text>
<text x="450.1" y="233.3" font-size="12.8" text-anchor="end">0</text>
<text transform="translate(433.5,175.2) rotate(-90)" font-size="12.8" letter-spacing="0.44" font-family='"DejaVu Sans", Verdana, sans-serif'>Intensity (a.u.)</text>
<text x="538.6" y="258.6" font-size="13.1">Position <tspan font-style="italic">n</tspan></text>
<g transform="scale(1,1.45)">
<path d="M454.6,157.793 H519.96 V150.730 H523.16 V157.793 H529.19 V134.178 H532.39 V157.793 H538.42 V101.282 H541.62 V157.793 H547.65 V55.903 H550.85 V157.793 H556.88 V23.351 H560.08 V157.793 H566.11 V23.351 H569.31 V157.793 H575.34 V56.247 H578.54 V157.793 H584.57 V101.075 H587.77 V157.793 H593.80 V133.144 H597.00 V157.793 H603.03 V150.385 H606.23 V157.793 H612.26 V156.799 H615.46 V157.793 H683.4" fill="#fff1cf" stroke="#f6a519" stroke-width="2.15" stroke-linejoin="miter"/>
<mask id="omi" maskUnits="userSpaceOnUse" x="450" y="0" width="240" height="180"><rect x="450" y="0" width="240" height="180" fill="#fff"/><path d="M454.6,157.793 H519.96 V150.730 H523.16 V157.793 H529.19 V134.178 H532.39 V157.793 H538.42 V101.282 H541.62 V157.793 H547.65 V55.903 H550.85 V157.793 H556.88 V23.351 H560.08 V157.793 H566.11 V23.351 H569.31 V157.793 H575.34 V56.247 H578.54 V157.793 H584.57 V101.075 H587.77 V157.793 H593.80 V133.144 H597.00 V157.793 H603.03 V150.385 H606.23 V157.793 H612.26 V156.799 H615.46 V157.793 H683.4" fill="none" stroke="#000" stroke-width="2.15" stroke-linejoin="miter"/></mask>
<path d="M454.6,157.793 H520.06 V152.538 H523.06 V157.793 H529.29 V138.952 H532.29 V157.793 H538.52 V106.607 H541.52 V157.793 H547.75 V65.366 H550.75 V157.793 H556.98 V33.090 H559.98 V157.793 H566.21 V25.090 H569.21 V157.793 H575.44 V44.952 H578.44 V157.793 H584.67 V87.986 H587.67 V157.793 H593.90 V126.607 H596.90 V157.793 H603.13 V147.986 H606.13 V157.793 H612.36 V156.055 H615.36 V157.793 H683.4" fill="none" stroke="#2f5f8f" stroke-width="0.8" stroke-linejoin="round" mask="url(#omi)"/>
<mask id="om" maskUnits="userSpaceOnUse" x="450" y="0" width="240" height="180"><path d="M454.6,157.793 H519.96 V150.730 H523.16 V157.793 H529.19 V134.178 H532.39 V157.793 H538.42 V101.282 H541.62 V157.793 H547.65 V55.903 H550.85 V157.793 H556.88 V23.351 H560.08 V157.793 H566.11 V23.351 H569.31 V157.793 H575.34 V56.247 H578.54 V157.793 H584.57 V101.075 H587.77 V157.793 H593.80 V133.144 H597.00 V157.793 H603.03 V150.385 H606.23 V157.793 H612.26 V156.799 H615.46 V157.793 H683.4" fill="none" stroke="#fff" stroke-width="2.15" stroke-linejoin="miter"/></mask>
<path d="M454.6,157.793 H520.06 V152.538 H523.06 V157.793 H529.29 V138.952 H532.29 V157.793 H538.52 V106.607 H541.52 V157.793 H547.75 V65.366 H550.75 V157.793 H556.98 V33.090 H559.98 V157.793 H566.21 V25.090 H569.21 V157.793 H575.44 V44.952 H578.44 V157.793 H584.67 V87.986 H587.67 V157.793 H593.90 V126.607 H596.90 V157.793 H603.13 V147.986 H606.13 V157.793 H612.36 V156.055 H615.36 V157.793 H683.4" fill="none" stroke="#4e5c24" stroke-width="0.7" stroke-linejoin="round" mask="url(#om)"/>
<polyline points="563.4,20.34 562.9,20.40 562.4,20.56 561.9,20.83 561.4,21.21 560.9,21.69 560.4,22.28 559.9,22.97 559.4,23.77 558.9,24.66 558.4,25.65 557.9,26.74 557.4,27.92 556.9,29.20 556.4,30.56 555.9,32.00 555.4,33.53 554.9,35.13 554.4,36.81 553.9,38.56 553.4,40.38 552.9,42.26 552.4,44.20 551.9,46.20 551.4,48.24 550.9,50.34 550.4,52.47 549.9,54.65 549.4,56.86 548.9,59.10 548.4,61.36 547.9,63.65 547.4,65.96 546.9,68.28 546.4,70.61 545.9,72.94 545.4,75.28 544.9,77.62 544.4,79.95 543.9,82.27 543.4,84.58 542.9,86.88 542.4,89.16 541.9,91.41 541.4,93.65 540.9,95.85 540.4,98.03 539.9,100.17 539.4,102.29 538.9,104.36 538.4,106.40 537.9,108.40 537.4,110.36 536.9,112.28 536.4,114.15 535.9,115.98 535.4,117.76 534.9,119.50 534.4,121.19 533.9,122.83 533.4,124.42 532.9,125.97 532.4,127.47 531.9,128.92 531.4,130.32 530.9,131.67 530.4,132.97 529.9,134.23 529.4,135.44 528.9,136.61 528.4,137.73 527.9,138.80 527.4,139.83 526.9,140.82 526.4,141.77 525.9,142.67 525.4,143.53 524.9,144.35 524.4,145.14 523.9,145.89 523.4,146.60 522.9,147.27 522.4,147.92 521.9,148.53 521.4,149.10 520.9,149.65 520.4,150.17 519.9,150.66 519.4,151.12 518.9,151.56 518.4,151.97 517.9,152.35 517.4,152.72 516.9,153.06 516.4,153.38 515.9,153.69 515.4,153.97 514.9,154.23 514.4,154.48 513.9,154.71 513.4,154.93 512.9,155.13 512.4,155.32 511.9,155.50 511.4,155.66 510.9,155.81 510.4,155.96 509.9,156.09 509.4,156.21 508.9,156.32 508.4,156.43 507.9,156.52 507.4,156.61 506.9,156.70 506.4,156.77 505.9,156.84 505.4,156.91 504.9,156.97 504.4,157.02 503.9,157.07 503.4,157.12 502.9,157.16 502.4,157.20 501.9,157.24 501.4,157.27 500.9,157.30 500.4,157.32 499.9,157.35 499.4,157.37 498.9,157.39 498.4,157.41 497.9,157.43 497.4,157.44 496.9,157.46 496.4,157.47 495.9,157.48 495.4,157.49 494.9,157.50 494.4,157.51 493.9,157.52 493.4,157.53 492.9,157.53 492.4,157.54 491.9,157.54 491.4,157.55 490.9,157.55 490.4,157.56 489.9,157.56 489.4,157.56 488.9,157.56 488.4,157.57 487.9,157.57 487.4,157.57 486.9,157.57 486.4,157.57 485.9,157.58 485.4,157.58 484.9,157.58 484.4,157.58 483.9,157.58 483.4,157.58 482.9,157.58 482.4,157.58 481.9,157.58 481.4,157.58 480.9,157.58 480.4,157.58 479.9,157.58 479.4,157.58 478.9,157.58 478.4,157.58 477.9,157.58 477.4,157.59 476.9,157.59 476.4,157.59 475.9,157.59 475.4,157.59 474.9,157.59 474.4,157.59 473.9,157.59 473.4,157.59 472.9,157.59 472.4,157.59 471.9,157.59 471.4,157.59 470.9,157.59 470.4,157.59 469.9,157.59 469.4,157.59 468.9,157.59 468.4,157.59 467.9,157.59 467.4,157.59 466.9,157.59 466.4,157.59 465.9,157.59 465.4,157.59 464.9,157.59 464.4,157.59 463.9,157.59 463.4,157.59 462.9,157.59 462.4,157.59 461.9,157.59 461.4,157.59 460.9,157.59" fill="none" stroke="#e2001a" stroke-width="1.7" stroke-dasharray="3.4 5.525" stroke-dashoffset="2.3"/>
<polyline points="563.4,20.34 563.9,20.40 564.4,20.56 564.9,20.83 565.4,21.21 565.9,21.69 566.4,22.28 566.9,22.97 567.4,23.77 567.9,24.66 568.4,25.65 568.9,26.74 569.4,27.92 569.9,29.20 570.4,30.56 570.9,32.00 571.4,33.53 571.9,35.13 572.4,36.81 572.9,38.56 573.4,40.38 573.9,42.26 574.4,44.20 574.9,46.20 575.4,48.24 575.9,50.34 576.4,52.47 576.9,54.65 577.4,56.86 577.9,59.10 578.4,61.36 578.9,63.65 579.4,65.96 579.9,68.28 580.4,70.61 580.9,72.94 581.4,75.28 581.9,77.62 582.4,79.95 582.9,82.27 583.4,84.58 583.9,86.88 584.4,89.16 584.9,91.41 585.4,93.65 585.9,95.85 586.4,98.03 586.9,100.17 587.4,102.29 587.9,104.36 588.4,106.40 588.9,108.40 589.4,110.36 589.9,112.28 590.4,114.15 590.9,115.98 591.4,117.76 591.9,119.50 592.4,121.19 592.9,122.83 593.4,124.42 593.9,125.97 594.4,127.47 594.9,128.92 595.4,130.32 595.9,131.67 596.4,132.97 596.9,134.23 597.4,135.44 597.9,136.61 598.4,137.73 598.9,138.80 599.4,139.83 599.9,140.82 600.4,141.77 600.9,142.67 601.4,143.53 601.9,144.35 602.4,145.14 602.9,145.89 603.4,146.60 603.9,147.27 604.4,147.92 604.9,148.53 605.4,149.10 605.9,149.65 606.4,150.17 606.9,150.66 607.4,151.12 607.9,151.56 608.4,151.97 608.9,152.35 609.4,152.72 609.9,153.06 610.4,153.38 610.9,153.69 611.4,153.97 611.9,154.23 612.4,154.48 612.9,154.71 613.4,154.93 613.9,155.13 614.4,155.32 614.9,155.50 615.4,155.66 615.9,155.81 616.4,155.96 616.9,156.09 617.4,156.21 617.9,156.32 618.4,156.43 618.9,156.52 619.4,156.61 619.9,156.70 620.4,156.77 620.9,156.84 621.4,156.91 621.9,156.97 622.4,157.02 622.9,157.07 623.4,157.12 623.9,157.16 624.4,157.20 624.9,157.24 625.4,157.27 625.9,157.30 626.4,157.32 626.9,157.35 627.4,157.37 627.9,157.39 628.4,157.41 628.9,157.43 629.4,157.44 629.9,157.46 630.4,157.47 630.9,157.48 631.4,157.49 631.9,157.50 632.4,157.51 632.9,157.52 633.4,157.53 633.9,157.53 634.4,157.54 634.9,157.54 635.4,157.55 635.9,157.55 636.4,157.56 636.9,157.56 637.4,157.56 637.9,157.56 638.4,157.57 638.9,157.57 639.4,157.57 639.9,157.57 640.4,157.57 640.9,157.58 641.4,157.58 641.9,157.58 642.4,157.58 642.9,157.58 643.4,157.58 643.9,157.58 644.4,157.58 644.9,157.58 645.4,157.58 645.9,157.58 646.4,157.58 646.9,157.58 647.4,157.58 647.9,157.58 648.4,157.58 648.9,157.58 649.4,157.59 649.9,157.59 650.4,157.59 650.9,157.59 651.4,157.59 651.9,157.59 652.4,157.59 652.9,157.59 653.4,157.59 653.9,157.59 654.4,157.59 654.9,157.59 655.4,157.59 655.9,157.59 656.4,157.59 656.9,157.59 657.4,157.59 657.9,157.59 658.4,157.59 658.9,157.59 659.4,157.59 659.9,157.59 660.4,157.59 660.9,157.59 661.4,157.59 661.9,157.59 662.4,157.59 662.9,157.59 663.4,157.59 663.9,157.59 664.4,157.59 664.9,157.59 665.4,157.59 665.9,157.59 666.4,157.59 666.9,157.59 667.4,157.59 667.9,157.59 668.4,157.59 668.9,157.59 669.4,157.59 669.9,157.59 670.4,157.59 670.9,157.59 671.4,157.59 671.9,157.59 672.4,157.59 672.9,157.59 673.4,157.59 673.9,157.59 674.4,157.59 674.9,157.59 675.4,157.59 675.9,157.59 676.4,157.59 676.9,157.59 677.4,157.59 677.9,157.59 678.4,157.59 678.9,157.59 679.4,157.59 679.9,157.59 680.4,157.59 680.9,157.59 681.4,157.59 681.9,157.59 682.4,157.59 682.9,157.59 683.4,157.59" fill="none" stroke="#e2001a" stroke-width="1.7" stroke-dasharray="3.4 5.565" stroke-dashoffset="1.1"/>
</g>
<line x1="462.5" y1="32" x2="485.6" y2="32" stroke="#3f6d93" stroke-width="1.45"/>
<line x1="462.5" y1="50.6" x2="485.6" y2="50.6" stroke="#f6a519" stroke-width="3.2"/>
<path d="M461.4,72.9H465.9M471.8,72.9H476.3M482.5,72.9H486.8" stroke="#e2001a" stroke-width="2.1" fill="none"/>
<text x="487.8" y="36.3" font-size="11.6">Experiment</text>
<text x="487.8" y="54.6" font-size="11.6">Simulation</text>
<text x="487.8" y="71.8" font-size="11.6">Gaussian</text>
<text x="487.8" y="82" font-size="11.6">envelope</text>
</svg>
</body></html>
